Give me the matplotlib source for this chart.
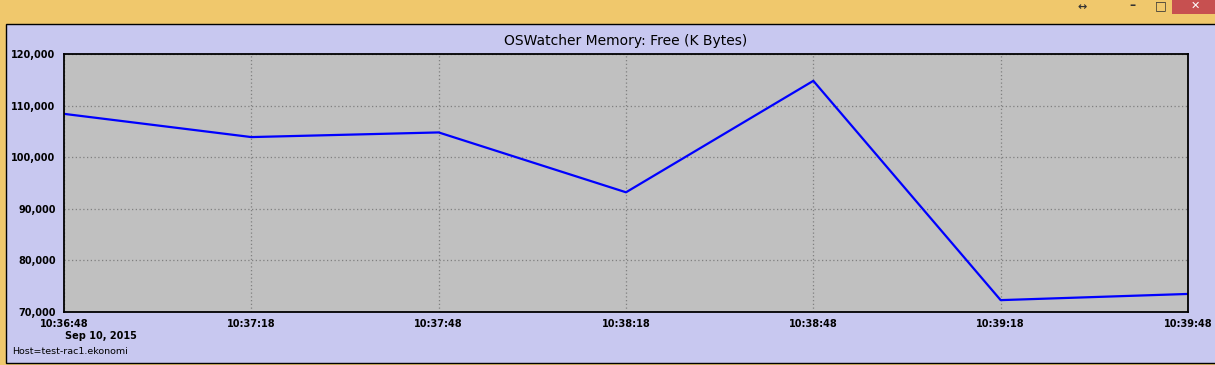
import matplotlib.pyplot as plt
import matplotlib.dates as mdates
from matplotlib.patches import Rectangle
from matplotlib.ticker import FuncFormatter
import pandas as pd

# sample times and free memory (K bytes)
times = ['2015-09-10 10:36:48', '2015-09-10 10:37:18', '2015-09-10 10:37:48',
         '2015-09-10 10:38:18', '2015-09-10 10:38:48', '2015-09-10 10:39:18',
         '2015-09-10 10:39:48']
free_kb = [108400, 103900, 104800, 93200, 114800, 72300, 73500]
title = 'OSWatcher Memory: Free (K Bytes)'
host = 'Host=test-rac1.ekonomi'
date_label = 'Sep 10, 2015'

t = pd.to_datetime(times)

W, H = 1215, 365
fig = plt.figure(figsize=(W / 100, H / 100), dpi=100)
fig.patch.set_facecolor('#F0C86C')

def px_rect(x0, y0, x1, y1, **kw):
    # rectangle in pixel coords (origin top-left)
    r = Rectangle((x0 / W, 1 - y1 / H), (x1 - x0) / W, (y1 - y0) / H,
                  transform=fig.transFigure, zorder=-1, **kw)
    fig.patches.append(r)

# lavender panel and close button
px_rect(6, 24, 1230, 363, facecolor='#C8C8F0', edgecolor='black', linewidth=1)
px_rect(1172, -2, 1216, 14, facecolor='#C75050', edgecolor='none')
fig.text(1195 / W, 1 - 6 / H, '\u2715', color='white', fontsize=8, weight='bold',
         ha='center', va='center')
fig.text(1161 / W, 1 - 6 / H, '\u25a1', color='#333333', fontsize=9,
         ha='center', va='center')
fig.text(1132 / W, 1 - 6 / H, '\u2013', color='#333333', fontsize=9, weight='bold',
         ha='center', va='center')
fig.text(1082 / W, 1 - 7 / H, '\u2194', color='#333333', fontsize=8, weight='bold',
         ha='center', va='center')

ax = fig.add_axes([64 / W, 1 - 312 / H, (1188 - 64) / W, (312 - 54) / H])
ax.set_facecolor('#C0C0C0')
ax.plot(t, free_kb, color='#0000FF', linewidth=1.6)

ax.set_xlim(t[0], t[-1])
ax.set_ylim(70000, 120000)
ax.set_xticks(t)
ax.xaxis.set_major_formatter(mdates.DateFormatter('%H:%M:%S'))
ax.set_yticks(range(70000, 120001, 10000))
ax.yaxis.set_major_formatter(FuncFormatter(lambda v, p: f'{int(v):,}'))
ax.tick_params(length=0, labelsize=7, pad=6)
ax.tick_params(axis='x', pad=5)
for lab in ax.get_xticklabels() + ax.get_yticklabels():
    lab.set_fontweight('bold')
ax.grid(True, color='#808080', linestyle=(0, (1, 2)), linewidth=0.9)
for s in ax.spines.values():
    s.set_linewidth(1.3)

fig.text(626 / W, 1 - 41 / H, title, fontsize=10, ha='center', va='center')
fig.text(65 / W, 1 - 336 / H, date_label, fontsize=7, weight='bold',
         ha='left', va='center')
fig.text(12 / W, 1 - 351 / H, host, fontsize=6.8, ha='left', va='center')

fig.savefig('out.png', dpi=100, facecolor=fig.get_facecolor())
